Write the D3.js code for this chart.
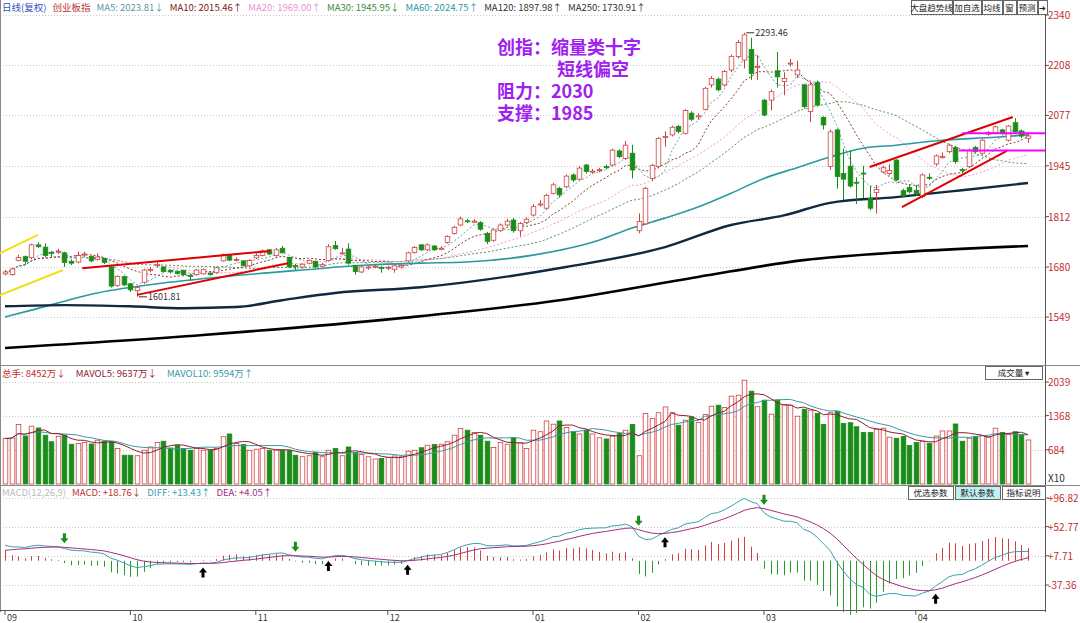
<!DOCTYPE html>
<html>
<head>
<meta charset="utf-8">
<script src="https://cdn.jsdelivr.net/npm/d3@7"></script>
<style>
  body { margin: 0; background: #fff; }
  text { font-family: "Noto Sans CJK SC", "DejaVu Sans", sans-serif; }
</style>
</head>
<body>
<svg id="chart" width="1080" height="623"></svg>
<script>
// daily candles [open, close, high, low]
const candles = [
  [1662,1667,1672,1658],[1660,1675,1678,1657],[1697,1705,1712,1695],[1707,1695,1710,1685],[1705,1738,1741,1700],
  [1738,1733,1745,1730],[1732,1710,1742,1706],[1718,1716,1722,1705],[1720,1721,1728,1714],[1717,1692,1720,1680],
  [1695,1690,1700,1685],[1693,1710,1720,1690],[1712,1714,1720,1706],[1708,1696,1710,1692],[1700,1706,1716,1697],
  [1702,1692,1704,1688],[1680,1630,1682,1626],[1632,1655,1658,1628],[1655,1633,1657,1630],[1636,1620,1638,1615],
  [1618,1626,1630,1601.81],[1640,1672,1675,1636],[1672,1674,1680,1666],[1685,1686,1692,1678],[1680,1668,1682,1665],
  [1671,1667,1674,1663],[1668,1663,1670,1660],[1671,1660,1673,1657],[1658,1656,1662,1645],[1660,1672,1675,1657],
  [1662,1673,1676,1660],[1663,1661,1667,1657],[1665,1678,1681,1662],[1696,1712,1715,1694],[1710,1698,1712,1695],
  [1698,1700,1705,1694],[1696,1684,1698,1681],[1683,1697,1700,1680],[1704,1710,1716,1701],[1710,1722,1726,1708],
  [1725,1714,1727,1711],[1710,1725,1730,1707],[1729,1718,1735,1715],[1705,1680,1707,1677],[1684,1682,1688,1672],
  [1680,1687,1690,1677],[1690,1697,1700,1687],[1695,1680,1697,1677],[1682,1686,1690,1679],[1697,1733,1740,1694],
  [1736,1728,1748,1725],[1717,1717,1730,1712],[1727,1690,1742,1686],[1684,1668,1686,1660],[1667,1680,1683,1664],
  [1678,1680,1684,1673],[1682,1682,1687,1677],[1679,1677,1682,1665],[1678,1679,1683,1672],[1674,1683,1686,1665],
  [1680,1684,1688,1676],[1696,1717,1720,1693],[1718,1731,1735,1715],[1738,1725,1740,1722],[1725,1738,1742,1722],
  [1735,1725,1737,1722],[1729,1729,1734,1724],[1744,1760,1763,1741],[1768,1784,1788,1765],[1790,1806,1812,1787],
  [1801,1799,1806,1795],[1799,1800,1805,1795],[1796,1779,1800,1775],[1768,1747,1772,1740],[1750,1777,1780,1746],
  [1775,1790,1794,1772],[1790,1800,1806,1787],[1803,1775,1808,1770],[1775,1794,1798,1760],[1797,1805,1810,1793],
  [1816,1838,1845,1812],[1845,1845,1855,1838],[1834,1867,1872,1830],[1873,1895,1900,1870],[1886,1869,1890,1862],
  [1890,1918,1922,1886],[1921,1908,1925,1903],[1910,1939,1945,1906],[1947,1930,1950,1925],[1930,1931,1937,1925],
  [1933,1935,1940,1928],[1943,1941,1948,1936],[1947,1986,1990,1944],[1984,1969,1988,1965],[1964,1999,2010,1960],
  [1978,1934,2000,1912],[1775,1799,1820,1768],[1793,1886,1890,1790],[1912,1946,1950,1905],[1943,2017,2020,1938],
  [2020,2022,2035,1995],[2026,2046,2050,2022],[2048,2035,2052,2030],[2030,2090,2094,2027],[2083,2067,2088,2062],
  [2073,2076,2082,2066],[2093,2148,2152,2090],[2157,2174,2180,2150],[2172,2144,2176,2140],[2157,2192,2196,2152],
  [2196,2231,2236,2190],[2231,2268,2274,2226],[2222,2288,2293.46,2200],[2250,2187,2280,2170],[2205,2205,2235,2170],
  [2117,2078,2120,2075],[2117,2139,2145,2090],[2194,2178,2243,2150],[2166,2174,2190,2130],[2212,2214,2225,2205],
  [2183,2196,2220,2175],[2157,2100,2160,2095],[2087,2157,2165,2060],[2163,2104,2168,2100],[2072,2052,2075,2040],
  [1943,2034,2040,1935],[2039,1917,2042,1885],[1925,1910,1990,1855],[1944,1892,1985,1888],[1902,1900,1915,1845],
  [1926,1924,1945,1860],[1860,1834,1893,1828],[1875,1883,1895,1820],[1929,1940,1945,1925],[1925,1933,1950,1920],
  [1960,1908,1962,1905],[1880,1866,1885,1862],[1888,1877,1897,1873],[1881,1871,1895,1866],[1864,1921,1925,1860],
  [1915,1913,1925,1908],[1950,1971,1975,1945],[1969,1969,1980,1964],[1982,1999,2003,1978],[1993,1956,1997,1950],
  [1935,1932,1940,1925],[1943,1986,1990,1940],[1993,1982,1997,1978],[1978,2012,2016,1974],[2028,2032,2036,2024],
  [2032,2047,2050,2028],[2039,2030,2042,2026],[2012,2049,2052,2008],[2058,2034,2070,2030],[2036,2023,2040,2018],
  [2017,2023,2030,2005]
];

// volume per candle
const volumes = [
  910,920,1190,960,1155,1120,975,845,955,975,795,810,830,800,875,855,855,710,575,575,
  565,675,740,830,855,720,775,710,675,710,675,675,710,945,1000,810,790,675,695,710,
  675,675,675,675,575,545,565,630,545,675,710,565,740,630,590,545,500,510,530,560,
  545,655,675,725,775,790,795,845,975,1110,1075,1030,975,855,730,830,795,930,820,710,
  1075,1045,1260,1195,1260,1130,1045,1000,1075,1000,925,900,955,1010,1075,1190,565,1410,1310,1425,
  1540,1425,1175,1275,1340,1230,1390,1555,1575,1530,1755,1775,2075,1855,1545,1675,1395,1675,1590,1575,
  1355,1495,1475,1410,1190,1425,1455,1210,1225,1145,1030,1030,1095,1115,935,915,950,770,830,850,
  815,960,1060,1060,1200,855,915,950,970,950,1115,1030,990,1045,990,880
];

// long moving averages: [candle index, value]
const ma60Pts = [[0,1549],[4,1567],[14,1612],[24,1638],[34,1656],[45,1672],[55,1685],[63,1690],[70,1693],[80,1711],
  [90,1750],[95,1782],[100,1808],[105,1837],[110,1873],[115,1912],[120,1940],[125,1968],[130,1991],[135,1999],
  [142,2012],[150,2020],[155,2026]];
const ma120Pts = [[0,1577],[9,1580],[19,1577],[27,1572],[35,1575],[42,1593],[50,1612],[63,1627],[85,1680],[100,1732],
  [110,1790],[118,1815],[125,1848],[135,1863],[145,1881],[155,1900]];
const ma250Pts = [[0,1468],[30,1502],[60,1546],[84,1593],[105,1654],[121,1698],[136,1719],[155,1735]];

const priceTicks = [2340, 2208, 2077, 1945, 1812, 1680, 1549];
const volTicks = [2039, 1368, 684];
const macdTicks = [96.82, 52.77, 7.71, -37.36];
const months = [[0,"09"],[19,"10"],[38,"11"],[58,"12"],[80,"01"],[96,"02"],[115,"03"],[138,"04"]];

// hand-drawn lines: [idx1, price1, idx2, price2, colour]
const drawnLines = [
  [11.7,1677,40.2,1722,"#e00000"],[20,1607,42.9,1690,"#e00000"],
  [131,1942,152.7,2073,"#e00000"],[135.9,1837,151.8,1984,"#e00000"],
  [-0.8,1716,5,1764,"#f0e020"],[-0.8,1606,8.8,1672,"#f0e020"],
  [145,2030,157,2030,"#ff00ff"],[144.5,1985,157,1985,"#ff00ff"]
];
const notes = ["创指：缩量类十字", "短线偏空", "阻力：2030", "支撑：1985"];
const emaSeed = { ema12: 1690, ema26: 1662, dea: 14 };

const svg = d3.select("#chart");
const axisX = 1045;
const x = d3.scaleLinear().domain([0, 1]).range([5, 11.6]);
const yP = d3.scaleLinear().domain([1549, 2340]).range([317, 15]);
const yV = d3.scaleLinear().domain([0, 2039]).range([484, 382]);
const yM = d3.scaleLinear().domain([-37.36, 96.82]).range([585, 498]);
const bw = 4.6;

// grid lines
function grid(scale, ticks) {
  ticks.forEach(t => {
    svg.append("line").attr("x1", 0).attr("x2", axisX).attr("y1", Math.round(scale(t)) + 0.5).attr("y2", Math.round(scale(t)) + 0.5)
      .attr("stroke", "#c8c8c8").attr("stroke-dasharray", "1,2");
  });
}
grid(yP, priceTicks); grid(yV, volTicks); grid(yM, macdTicks);

// frame
svg.append("line").attr("x1", axisX + 0.5).attr("x2", axisX + 0.5).attr("y1", 0).attr("y2", 612).attr("stroke", "#555");
svg.append("line").attr("x1", 0.5).attr("x2", 0.5).attr("y1", 0).attr("y2", 612).attr("stroke", "#888");
[365.5, 485.5].forEach(yy => svg.append("line").attr("x1", 0).attr("x2", 1080).attr("y1", yy).attr("y2", yy).attr("stroke", "#888"));
svg.append("line").attr("x1", 0).attr("x2", axisX).attr("y1", 610.5).attr("y2", 610.5).attr("stroke", "#555");

// axis labels
function axisLabels(scale, ticks, fmt) {
  ticks.forEach(t => {
    svg.append("line").attr("x1", axisX).attr("x2", axisX + 4).attr("y1", scale(t)).attr("y2", scale(t)).attr("stroke", "#555");
    svg.append("text").attr("x", axisX + 3).attr("y", scale(t) + 4).attr("font-size", 10).attr("fill", "#c03030").text(fmt(t));
  });
}
axisLabels(yP, priceTicks, d => d);
axisLabels(yV, volTicks, d => d);
axisLabels(yM, macdTicks, d => (d > 0 ? "+" : "") + d);
svg.append("text").attr("x", axisX + 3).attr("y", 482).attr("font-size", 10).attr("fill", "#333").text("X10");

months.forEach(([i, m]) => {
  svg.append("line").attr("x1", x(i)).attr("x2", x(i)).attr("y1", 610).attr("y2", 615).attr("stroke", "#555");
  svg.append("text").attr("x", x(i) + 2).attr("y", 621).attr("font-size", 9).attr("fill", "#333").text(m);
});

// moving averages from closes
const closes = candles.map(d => d[1]);
function ma(arr, n) { return arr.map((_, i) => d3.mean(arr.slice(Math.max(0, i - n + 1), i + 1))); }
const lineFrom = (ys, scale) => d3.line().x((_, i) => x(i)).y(d => scale(d))(ys);
const maDefs = [[30, "#3c8c3c"], [20, "#f090d0"], [10, "#7a2020"], [5, "#5a9aa0"]];
maDefs.forEach(([n, c]) => {
  svg.append("path").attr("d", lineFrom(ma(closes, n), yP)).attr("fill", "none").attr("stroke", c)
    .attr("stroke-width", 0.9).attr("stroke-dasharray", "2,2");
});
const ptLine = d3.line().x(d => x(d[0])).y(d => yP(d[1])).curve(d3.curveMonotoneX);
svg.append("path").attr("d", ptLine(ma60Pts)).attr("fill", "none").attr("stroke", "#2a9aa0").attr("stroke-width", 1.6);
svg.append("path").attr("d", ptLine(ma120Pts)).attr("fill", "none").attr("stroke", "#102840").attr("stroke-width", 2.4);
svg.append("path").attr("d", ptLine(ma250Pts)).attr("fill", "none").attr("stroke", "#000").attr("stroke-width", 2.6);

// candles
candles.forEach((d, i) => {
  const [o, c, h, l] = d;
  const up = c >= o;
  const col = up ? "#d04040" : "#1a8c1a";
  const cx = Math.round(x(i)) + 0.5;
  const top = yP(Math.max(o, c)), bot = yP(Math.min(o, c));
  svg.append("line").attr("x1", cx).attr("x2", cx).attr("y1", yP(h)).attr("y2", top).attr("stroke", col);
  svg.append("line").attr("x1", cx).attr("x2", cx).attr("y1", bot).attr("y2", yP(l)).attr("stroke", col);
  svg.append("rect").attr("x", cx - bw / 2).attr("y", top).attr("width", bw).attr("height", Math.max(1, bot - top))
    .attr("fill", up ? "#fff" : col).attr("stroke", col).attr("stroke-width", 0.8);
});

// drawn trend lines
drawnLines.forEach(([i1, p1, i2, p2, c]) => {
  svg.append("line").attr("x1", x(i1)).attr("y1", yP(p1)).attr("x2", i2 > 155 ? axisX : x(i2)).attr("y2", yP(p2))
    .attr("stroke", c).attr("stroke-width", 2);
});

// high / low marks
const hiIdx = d3.maxIndex(candles, d => d[2]), loIdx = d3.minIndex(candles, d => d[3]);
svg.append("line").attr("x1", x(hiIdx) + 2).attr("x2", x(hiIdx) + 10).attr("y1", yP(candles[hiIdx][2])).attr("y2", yP(candles[hiIdx][2])).attr("stroke", "#333");
svg.append("text").attr("x", x(hiIdx) + 11).attr("y", yP(candles[hiIdx][2]) + 3).attr("font-size", 9).attr("fill", "#333").text(candles[hiIdx][2]);
svg.append("line").attr("x1", x(loIdx) + 2).attr("x2", x(loIdx) + 10).attr("y1", yP(candles[loIdx][3])).attr("y2", yP(candles[loIdx][3])).attr("stroke", "#333");
svg.append("text").attr("x", x(loIdx) + 11).attr("y", yP(candles[loIdx][3]) + 3).attr("font-size", 9).attr("fill", "#333").text(candles[loIdx][3]);

// annotation text
const noteX = [497, 557, 497, 497];
notes.forEach((t, i) => {
  svg.append("text").attr("x", noteX[i]).attr("y", 54 + i * 22).attr("font-size", 18).attr("font-weight", "bold")
    .attr("fill", "#a020f0").text(t);
});

// top legend
const legend = [["日线(复权)", "#3050c0"], ["创业板指", "#c03030"], ["MA5: 2023.81↓", "#5a9aa0"], ["MA10: 2015.46↑", "#7a2020"],
  ["MA20: 1969.00↑", "#f090d0"], ["MA30: 1945.95↓", "#3c8c3c"], ["MA60: 2024.75↑", "#2a9aa0"],
  ["MA120: 1897.98↑", "#333"], ["MA250: 1730.91↑", "#333"]];
let lx = 2;
legend.forEach(([t, c]) => {
  const el = svg.append("text").attr("x", lx).attr("y", 11).attr("font-size", 9.5).attr("fill", c).text(t);
  lx += el.node().getComputedTextLength() + 6;
});

// buttons
function button(bx, by, w, h, t, fill) {
  svg.append("rect").attr("x", bx + 0.5).attr("y", by + 0.5).attr("width", w).attr("height", h).attr("fill", fill || "#fff").attr("stroke", "#666");
  svg.append("text").attr("x", bx + w / 2).attr("y", by + h - 3.5).attr("text-anchor", "middle").attr("font-size", 8.5).attr("fill", "#222").text(t);
}
[[911, 41, "大盘趋势线"], [953, 28, "加自选"], [982, 20, "均线"], [1003, 13, "窗"], [1017, 20, "预测"], [1038, 9, "➜"]]
  .forEach(([bx, w, t]) => button(bx, 0, w, 14, t));
button(985, 366, 57, 13, "成交量 ▾");
button(908, 486, 45, 13, "优选参数");
button(955, 486, 45, 13, "默认参数", "#bff0f0");
button(1002, 486, 43, 13, "指标说明");

// volume panel
volumes.forEach((v, i) => {
  const up = candles[i][1] >= candles[i][0];
  const col = up ? "#d04040" : "#1a8c1a";
  svg.append("rect").attr("x", Math.round(x(i)) + 0.5 - bw / 2).attr("y", yV(v)).attr("width", bw).attr("height", yV(0) - yV(v))
    .attr("fill", up ? "#fff" : col).attr("stroke", col).attr("stroke-width", 0.8);
});
svg.append("path").attr("d", lineFrom(ma(volumes, 10), yV)).attr("fill", "none").attr("stroke", "#3a9aa8").attr("stroke-width", 1);
svg.append("path").attr("d", lineFrom(ma(volumes, 5), yV)).attr("fill", "none").attr("stroke", "#902030").attr("stroke-width", 1);
const vlg = [["总手: 8452万↓", "#c03030"], ["MAVOL5: 9637万↓", "#902030"], ["MAVOL10: 9594万↑", "#3a9aa8"]];
lx = 2;
vlg.forEach(([t, c]) => {
  const el = svg.append("text").attr("x", lx).attr("y", 377).attr("font-size", 9.5).attr("fill", c).text(t);
  lx += el.node().getComputedTextLength() + 10;
});

// MACD computed from closes
let e12 = emaSeed.ema12, e26 = emaSeed.ema26, dea = emaSeed.dea;
const diffs = [], deas = [];
closes.forEach(c => {
  e12 = e12 * 11 / 13 + c * 2 / 13;
  e26 = e26 * 25 / 27 + c * 2 / 27;
  const df = e12 - e26;
  dea = dea * 8 / 10 + df * 2 / 10;
  diffs.push(df); deas.push(dea);
});
diffs.forEach((df, i) => {
  const m = 2 * (df - deas[i]);
  svg.append("line").attr("x1", Math.round(x(i)) + 0.5).attr("x2", Math.round(x(i)) + 0.5).attr("y1", yM(0)).attr("y2", yM(m))
    .attr("stroke", m >= 0 ? "#d04040" : "#2a9a2a").attr("stroke-width", 1);
});
svg.append("path").attr("d", lineFrom(diffs, yM)).attr("fill", "none").attr("stroke", "#3aa0b0").attr("stroke-width", 1);
svg.append("path").attr("d", lineFrom(deas, yM)).attr("fill", "none").attr("stroke", "#a03080").attr("stroke-width", 1);
let lastCross = -10;
for (let i = 1; i < diffs.length; i++) {
  const prev = diffs[i - 1] - deas[i - 1], cur = diffs[i] - deas[i];
  if (i - lastCross < 4) continue;
  if (prev < 0 && cur >= 0) {
    lastCross = i;
    const yy = yM(deas[i]) + 4;
    svg.append("path").attr("d", `M${x(i)},${yy} l-4,5 h2.5 v5 h3 v-5 h2.5 z`).attr("fill", "#000");
  } else if (prev > 0 && cur <= 0) {
    lastCross = i;
    const yy = yM(deas[i]) - 4;
    svg.append("path").attr("d", `M${x(i)},${yy} l-4,-5 h2.5 v-5 h3 v5 h2.5 z`).attr("fill", "#1a8c1a");
  }
}
const mlg = [["MACD(12,26,9)", "#bbb"], ["MACD: +18.76↓", "#c03030"], ["DIFF: +13.43↑", "#3aa0b0"], ["DEA: +4.05↑", "#a03080"]];
lx = 2;
mlg.forEach(([t, c]) => {
  const el = svg.append("text").attr("x", lx).attr("y", 496).attr("font-size", 9.5).attr("fill", c).text(t);
  lx += el.node().getComputedTextLength() + 6;
});
</script>
</body>
</html>
